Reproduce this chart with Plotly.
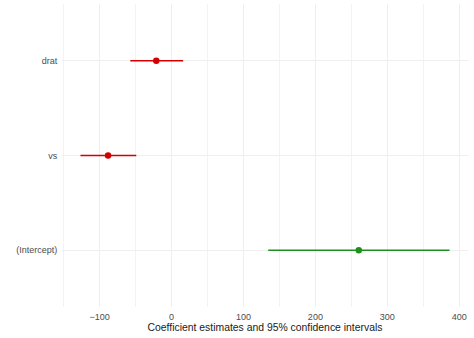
import plotly.graph_objects as go

# Coefficient estimates with 95% confidence intervals
terms = ["(Intercept)", "vs", "drat"]
estimates = [260.3, -88.2, -21.2]
ci_low = [134.5, -126.6, -57.3]
ci_high = [386.5, -49.0, 16.2]
colors = ["#1f8f1f", "#d40000", "#d40000"]
x_ticks = [-100, 0, 100, 200, 300, 400]

fig = go.Figure()
for term, est, lo, hi, col in zip(terms, estimates, ci_low, ci_high, colors):
    fig.add_trace(go.Scatter(
        x=[est], y=[term], mode="markers",
        marker=dict(color=col, size=6.5),
        error_x=dict(type="data", symmetric=False,
                     array=[hi - est], arrayminus=[est - lo],
                     color=col, thickness=1.6, width=0),
        showlegend=False,
    ))

span = max(ci_high) - min(ci_low)
x_range = [min(ci_low) - 0.05 * span, max(ci_high) + 0.05 * span]

fig.update_layout(
    width=474, height=338,
    margin=dict(l=61.5, r=5.5, t=4.3, b=31.3),
    paper_bgcolor="white", plot_bgcolor="white",
    font=dict(family="Liberation Sans, Arial, sans-serif", color="#4d4d4d"),
    xaxis=dict(
        range=x_range, tickvals=x_ticks, zeroline=False,
        showgrid=True, gridcolor="#efefef", gridwidth=1,
        minor=dict(dtick=100, tick0=-50, showgrid=True, gridcolor="#f3f3f3", gridwidth=0.8),
        tickfont=dict(size=9, color="#4d4d4d"),
        ticks="outside", ticklen=1, tickcolor="rgba(0,0,0,0)",
        title=dict(text="Coefficient estimates and 95% confidence intervals",
                   font=dict(size=10.4, color="#1a1a1a"), standoff=1),
    ),
    yaxis=dict(
        type="category", categoryorder="array", categoryarray=terms,
        range=[-0.6, 2.6], zeroline=False,
        showgrid=True, gridcolor="#efefef", gridwidth=1,
        tickfont=dict(size=9, color="#4d4d4d"),
        ticks="outside", ticklen=2, tickcolor="rgba(0,0,0,0)",
    ),
)

fig.write_html("out.html")
